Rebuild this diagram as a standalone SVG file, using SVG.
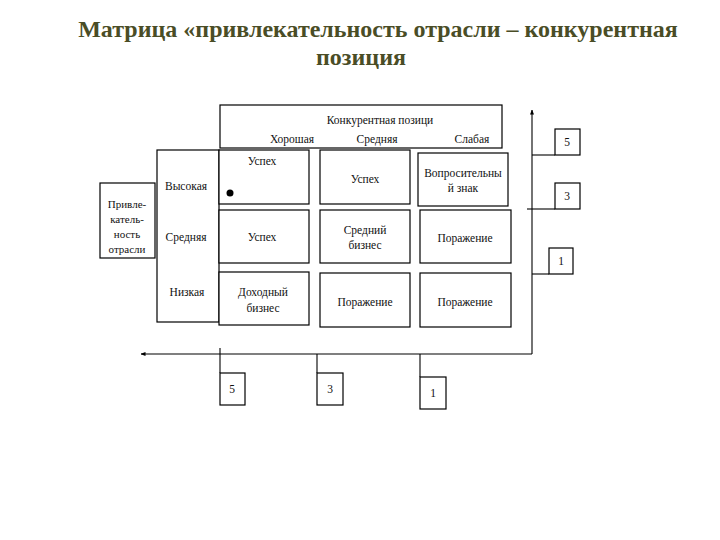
<svg xmlns="http://www.w3.org/2000/svg" width="720" height="540" viewBox="0 0 720 540">
<style>
.box{fill:#fff;stroke:#000;stroke-width:1.2}
.ln{fill:none;stroke:#000;stroke-width:1.1}
.t{font-family:"Liberation Serif","Times New Roman",serif;font-size:11.5px;fill:#111;text-anchor:middle}
.title{font-family:"Liberation Serif","Times New Roman",serif;font-size:24px;font-weight:bold;fill:#4a4d26;text-anchor:middle}
</style>
<defs>
<marker id="ah" viewBox="0 0 10 10" refX="9" refY="5" markerWidth="5" markerHeight="5" orient="auto" markerUnits="userSpaceOnUse">
<path d="M0,1 L10,5 L0,9 z" fill="#000"/>
</marker>
</defs>
<rect width="720" height="540" fill="#fff"/>
<g id="title">
<text class="title" x="378" y="37">Матрица «привлекательность отрасли – конкурентная</text>
<text class="title" x="361" y="65">позиция</text>
</g>
<g id="connectors">
<line class="ln" x1="532" y1="354" x2="532" y2="110" marker-end="url(#ah)"/>
<line class="ln" x1="532" y1="354" x2="141" y2="354" marker-end="url(#ah)"/>
<line class="ln" x1="532" y1="155" x2="555" y2="155"/>
<line class="ln" x1="527" y1="209" x2="555" y2="209"/>
<line class="ln" x1="532" y1="274" x2="549" y2="274"/>
<line class="ln" x1="220" y1="348" x2="220" y2="373"/>
<line class="ln" x1="317" y1="354" x2="317" y2="373"/>
<line class="ln" x1="420" y1="354" x2="420" y2="377"/>
</g>
<g id="header">
<rect class="box" x="220" y="105" width="282" height="43"/>
<text class="t" x="380" y="124">Конкурентная позици</text>
<text class="t" x="292" y="143">Хорошая</text>
<text class="t" x="377" y="143">Средняя</text>
<text class="t" x="472" y="143">Слабая</text>
</g>
<g id="attractiveness">
<rect class="box" x="100" y="183" width="55" height="75"/>
<text class="t" x="127" y="208" style="font-size:11px">Привле-</text>
<text class="t" x="127" y="223" style="font-size:11px">катель-</text>
<text class="t" x="127" y="238" style="font-size:11px">ность</text>
<text class="t" x="127" y="253" style="font-size:11px">отрасли</text>
</g>
<g id="levels">
<rect class="box" x="157" y="150" width="62" height="172"/>
<text class="t" x="186" y="190">Высокая</text>
<text class="t" x="186" y="241">Средняя</text>
<text class="t" x="187" y="296">Низкая</text>
</g>
<g id="r1c1">
<rect class="box" x="219" y="150" width="90" height="54"/>
<text class="t" x="262" y="165">Успех</text>
<circle cx="230" cy="193" r="3.5" fill="#000"/>
</g>
<g id="r1c2">
<rect class="box" x="320" y="150" width="90" height="54"/>
<text class="t" x="365" y="183">Успех</text>
</g>
<g id="r1c3">
<rect class="box" x="418" y="153" width="90" height="53"/>
<text class="t" x="463" y="177">Вопросительны</text>
<text class="t" x="463" y="192">й знак</text>
</g>
<g id="r2c1">
<rect class="box" x="219" y="210" width="90" height="53"/>
<text class="t" x="262" y="241">Успех</text>
</g>
<g id="r2c2">
<rect class="box" x="320" y="210" width="90" height="53"/>
<text class="t" x="365" y="234">Средний</text>
<text class="t" x="365" y="249">бизнес</text>
</g>
<g id="r2c3">
<rect class="box" x="420" y="210" width="91" height="53"/>
<text class="t" x="465" y="242">Поражение</text>
</g>
<g id="r3c1">
<rect class="box" x="219" y="272" width="90" height="53"/>
<text class="t" x="263" y="296">Доходный</text>
<text class="t" x="263" y="312">бизнес</text>
</g>
<g id="r3c2">
<rect class="box" x="320" y="273" width="90" height="54"/>
<text class="t" x="365" y="306">Поражение</text>
</g>
<g id="r3c3">
<rect class="box" x="420" y="273" width="91" height="54"/>
<text class="t" x="465" y="306">Поражение</text>
</g>
<g id="v5">
<rect class="box" x="555" y="129" width="25" height="26"/>
<text class="t" x="567" y="146">5</text>
</g>
<g id="v3">
<rect class="box" x="555" y="183" width="25" height="26"/>
<text class="t" x="567" y="200">3</text>
</g>
<g id="v1">
<rect class="box" x="549" y="248" width="24" height="26"/>
<text class="t" x="561" y="265">1</text>
</g>
<g id="h5">
<rect class="box" x="220" y="373" width="25" height="32"/>
<text class="t" x="232" y="393">5</text>
</g>
<g id="h3">
<rect class="box" x="317" y="373" width="26" height="32"/>
<text class="t" x="330" y="393">3</text>
</g>
<g id="h1">
<rect class="box" x="420" y="377" width="26" height="32"/>
<text class="t" x="433" y="397">1</text>
</g>
</svg>
